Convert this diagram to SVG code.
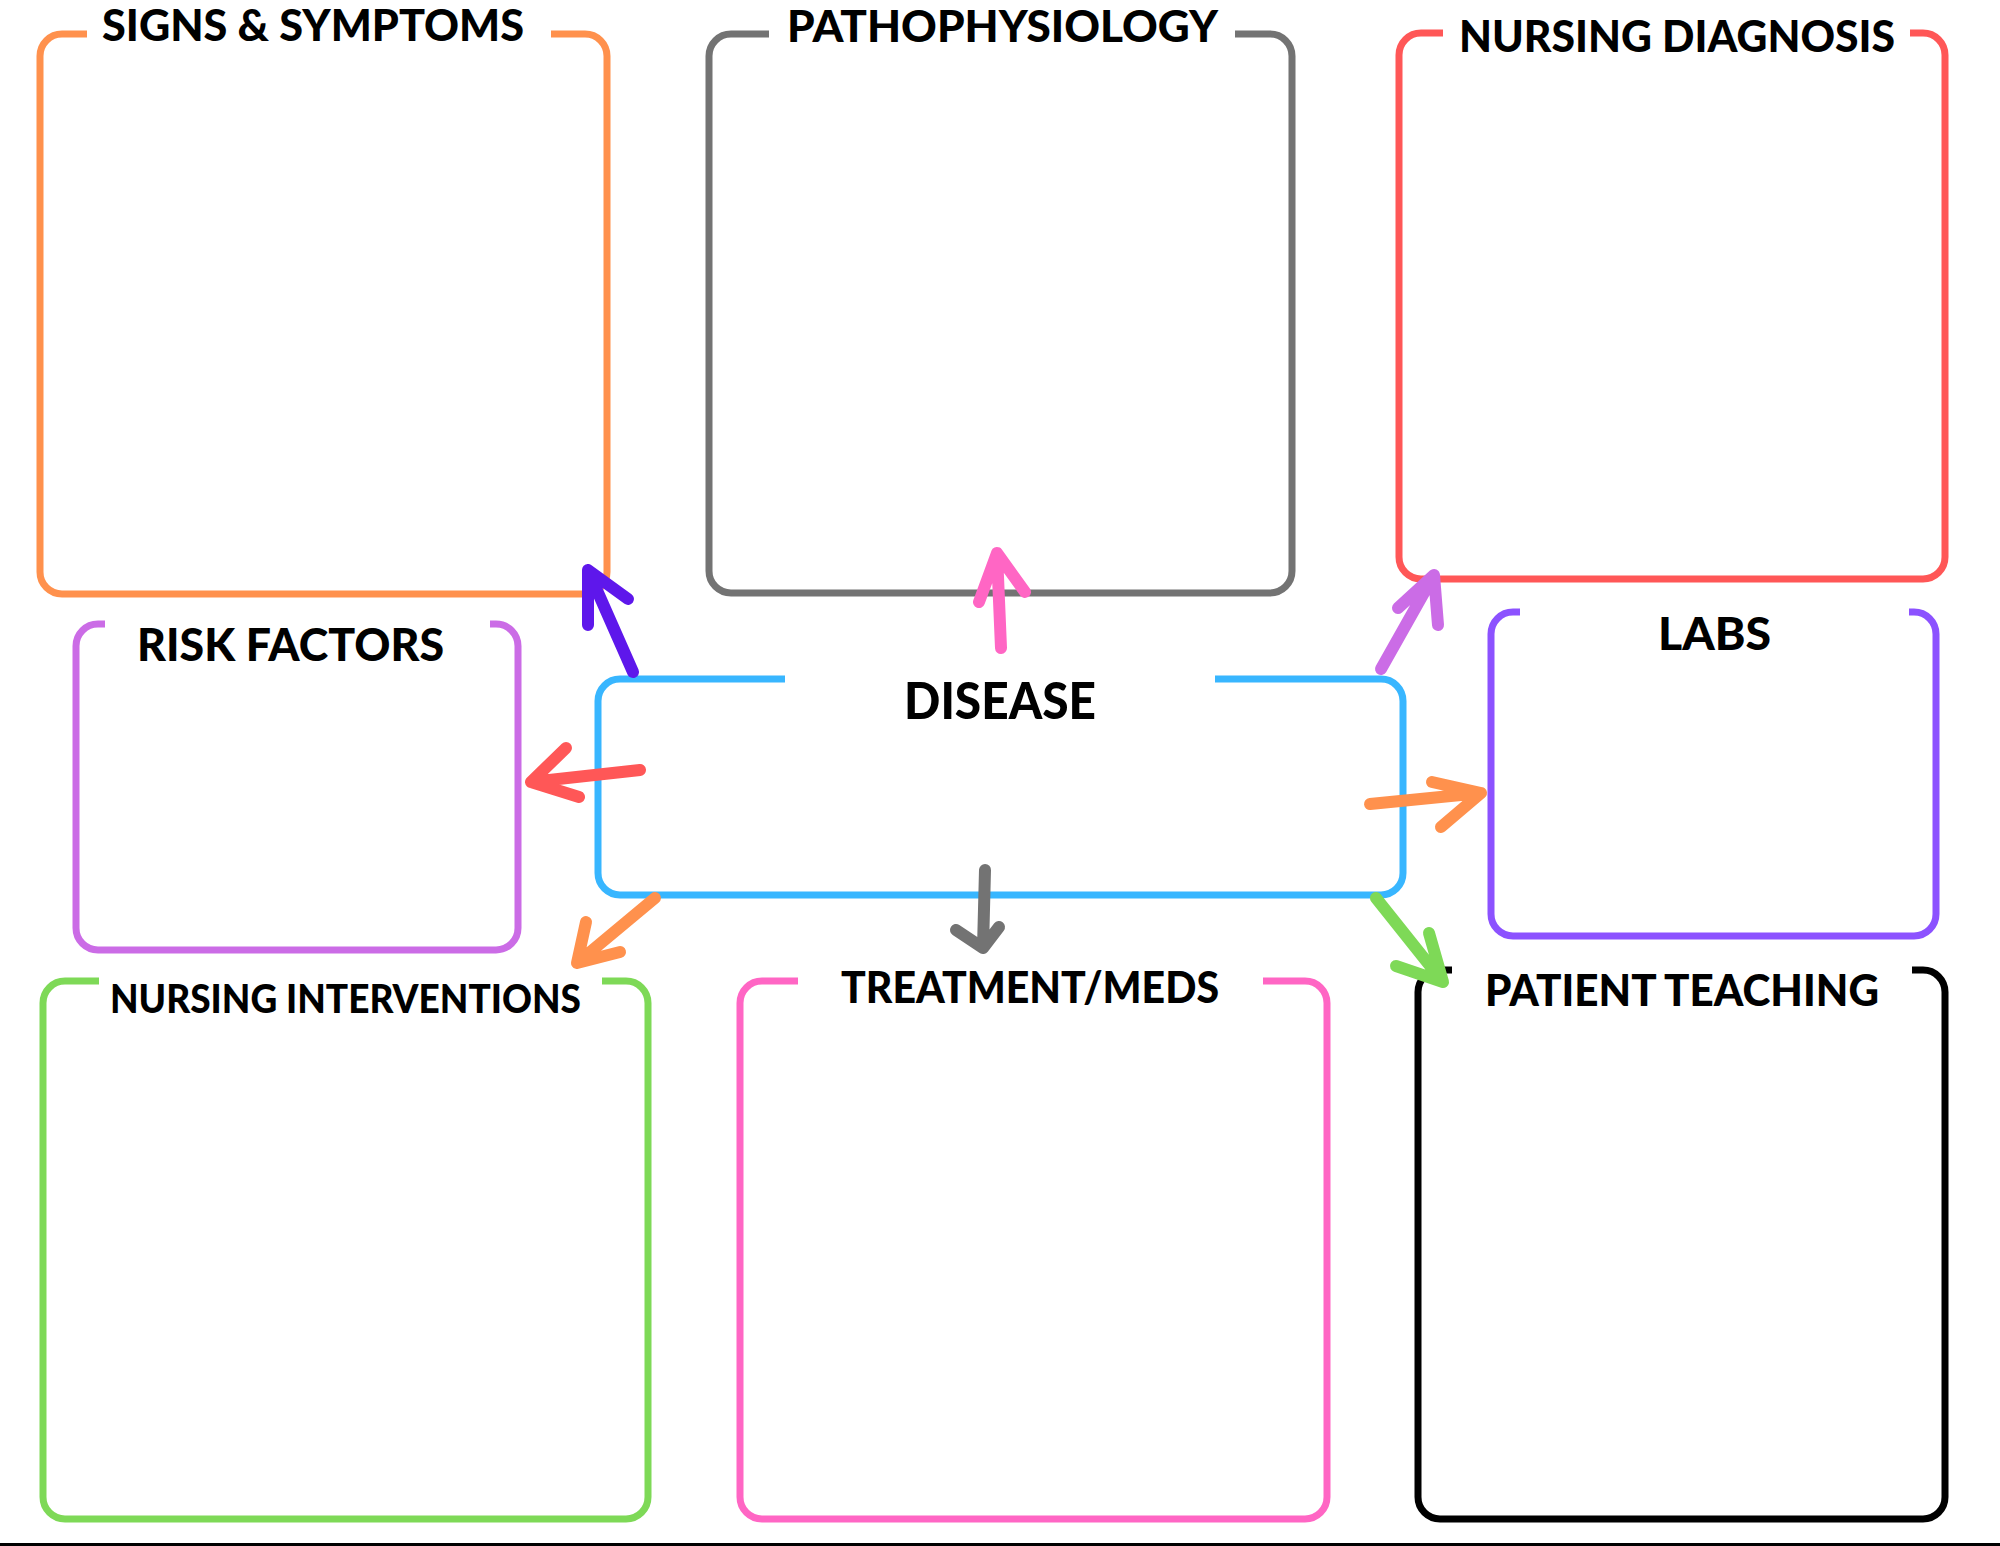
<svg xmlns="http://www.w3.org/2000/svg" width="2000" height="1546" viewBox="0 0 2000 1546">
<style>
.box{fill:none;stroke-width:7;stroke-linecap:butt;stroke-linejoin:round}
.t{font-family:Lato,"Liberation Sans","DejaVu Sans",sans-serif;font-weight:900;fill:#000;text-anchor:start}
.arr{fill:none;stroke-width:12;stroke-linecap:round;stroke-linejoin:round}
</style>
<rect x="0" y="0" width="2000" height="1546" fill="#ffffff"/>

<g id="node-signs">
<path class="box" stroke="#FF914D" d="M87 34 H62 A22 22 0 0 0 40 56 V572 A22 22 0 0 0 62 594 H585 A22 22 0 0 0 607 572 V56 A22 22 0 0 0 585 34 H551"/>
<text class="t" x="102" y="41" font-size="44" textLength="422" lengthAdjust="spacingAndGlyphs">SIGNS &amp; SYMPTOMS</text>
</g>

<g id="node-patho">
<path class="box" stroke="#737373" d="M769 34 H731 A22 22 0 0 0 709 56 V571 A22 22 0 0 0 731 593 H1270 A22 22 0 0 0 1292 571 V56 A22 22 0 0 0 1270 34 H1235"/>
<text class="t" x="787" y="42" font-size="44" textLength="431" lengthAdjust="spacingAndGlyphs">PATHOPHYSIOLOGY</text>
</g>

<g id="node-nursing-diagnosis">
<path class="box" stroke="#FF5757" d="M1443 33 H1421 A22 22 0 0 0 1399 55 V557 A22 22 0 0 0 1421 579 H1923 A22 22 0 0 0 1945 557 V55 A22 22 0 0 0 1923 33 H1910"/>
<text class="t" x="1459" y="52" font-size="43" textLength="436" lengthAdjust="spacingAndGlyphs">NURSING DIAGNOSIS</text>
</g>

<g id="node-risk">
<path class="box" stroke="#CB6CE6" d="M105 624 H98 A22 22 0 0 0 76 646 V928 A22 22 0 0 0 98 950 H496 A22 22 0 0 0 518 928 V646 A22 22 0 0 0 496 624 H490"/>
<text class="t" x="137" y="661" font-size="46" textLength="307" lengthAdjust="spacingAndGlyphs">RISK FACTORS</text>
</g>

<g id="node-disease">
<path class="box" stroke="#38B6FF" d="M785 679 H620 A22 22 0 0 0 598 701 V873 A22 22 0 0 0 620 895 H1381 A22 22 0 0 0 1403 873 V701 A22 22 0 0 0 1381 679 H1215"/>
<text class="t" x="904" y="719" font-size="52" textLength="192" lengthAdjust="spacingAndGlyphs">DISEASE</text>
</g>

<g id="node-labs">
<path class="box" stroke="#8C52FF" d="M1520 612 H1513 A22 22 0 0 0 1491 634 V914 A22 22 0 0 0 1513 936 H1914 A22 22 0 0 0 1936 914 V634 A22 22 0 0 0 1914 612 H1909"/>
<text class="t" x="1658" y="650" font-size="46" textLength="113" lengthAdjust="spacingAndGlyphs">LABS</text>
</g>

<g id="node-nursing-interventions">
<path class="box" stroke="#7ED957" d="M99 981 H65 A22 22 0 0 0 43 1003 V1497 A22 22 0 0 0 65 1519 H626 A22 22 0 0 0 648 1497 V1003 A22 22 0 0 0 626 981 H602"/>
<text class="t" x="110" y="1013" font-size="40" textLength="471" lengthAdjust="spacingAndGlyphs">NURSING INTERVENTIONS</text>
</g>

<g id="node-treatment">
<path class="box" stroke="#FF66C4" d="M798 981 H762 A22 22 0 0 0 740 1003 V1497 A22 22 0 0 0 762 1519 H1305 A22 22 0 0 0 1327 1497 V1003 A22 22 0 0 0 1305 981 H1263"/>
<text class="t" x="841" y="1003" font-size="44" textLength="378" lengthAdjust="spacingAndGlyphs">TREATMENT/MEDS</text>
</g>

<g id="node-patient-teaching">
<path class="box" stroke="#000000" stroke-width="8" d="M1452 970 H1440 A22 22 0 0 0 1418 992 V1497 A22 22 0 0 0 1440 1519 H1923 A22 22 0 0 0 1945 1497 V992 A22 22 0 0 0 1923 970 H1912"/>
<text class="t" x="1485" y="1006" font-size="44" textLength="394" lengthAdjust="spacingAndGlyphs">PATIENT TEACHING</text>
</g>

<g id="connectors">
<path class="arr" stroke="#5E17EB" d="M633 672 L588 570 M588 625 L588 570 L628 599"/>
<path class="arr" stroke="#FF66C4" d="M1001 648 L997 553 M979 602 L997 553 L1025 592"/>
<path class="arr" stroke="#CB6CE6" d="M1381 669 L1434 575 M1398 608 L1434 575 L1438 625"/>
<path class="arr" stroke="#FF5757" d="M640 770 L531 782 M566 748 L531 782 L579 797"/>
<path class="arr" stroke="#FF914D" d="M1370 804 L1481 793 M1432 782 L1481 793 L1441 827"/>
<path class="arr" stroke="#FF914D" d="M655 898 L577 963 M586 922 L577 963 L620 952"/>
<path class="arr" stroke="#737373" d="M985 870 L983 948 M956 930 L983 948 L999 927"/>
<path class="arr" stroke="#7ED957" d="M1376 898 L1443 982 M1429 933 L1443 982 L1396 966"/>
</g>

<line x1="0" y1="1544.5" x2="2000" y2="1544.5" stroke="#000000" stroke-width="3"/>
</svg>
